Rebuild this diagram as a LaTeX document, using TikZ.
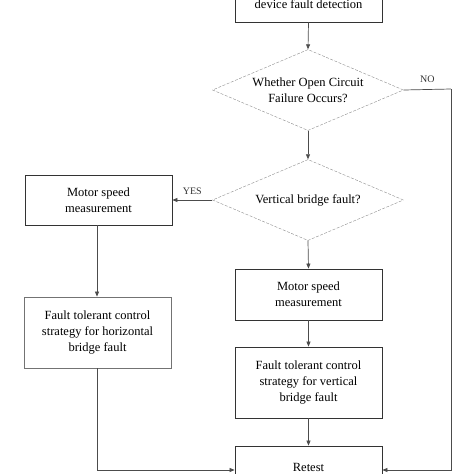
\documentclass[tikz,border=0pt]{standalone}
\usepackage{fontspec}
\setmainfont{Liberation Serif}
\usetikzlibrary{arrows.meta,shapes.geometric}
\begin{document}
\begin{tikzpicture}[x=1pt,y=-1pt,
  box/.style={draw=black!80,line width=0.8pt,rectangle,align=center,font=\fontsize{12.5}{16}\selectfont},
  dia/.style={draw=black!45,dashed,dash pattern=on 3pt off 1.5pt,diamond,aspect=2.36,inner sep=0pt,align=center,font=\fontsize{12.5}{16}\selectfont},
  arr/.style={draw=black!70,line width=0.7pt,-{Triangle[length=5pt,width=4pt]}},
  lin/.style={draw=black!70,line width=0.7pt},
  lab/.style={font=\fontsize{10}{12}\selectfont,text=black!80}]
\clip (0,0) rectangle (474,474);
\useasboundingbox (0,0) rectangle (474,474);
\node[box,minimum width=147pt,minimum height=62pt] (top) at (308.5,-9) {};
\node[font=\fontsize{12.5}{16}\selectfont] at (308.5,4) {device fault detection};
\node[dia,minimum width=191pt,minimum height=81pt] (d1) at (308,90) {Whether Open Circuit\\Failure Occurs?};
\node[dia,minimum width=191pt,minimum height=81pt] (d2) at (308,200) {Vertical bridge fault?};
\node[box,minimum width=147pt,minimum height=50pt] (l1) at (98.5,200) {Motor speed\\measurement};
\node[box,draw=black!55,minimum width=147pt,minimum height=71pt] (l2) at (97.5,332.5) {Fault tolerant control\\strategy for horizontal\\bridge fault};
\node[box,minimum width=147pt,minimum height=51pt] (m1) at (308.5,294.5) {Motor speed\\measurement};
\node[box,minimum width=147pt,minimum height=71pt] (m2) at (308.5,382.5) {Fault tolerant control\\strategy for vertical\\bridge fault};
\node[box,minimum width=147pt,minimum height=60pt] (rt) at (308.5,476) {};
\node[font=\fontsize{12.5}{16}\selectfont] at (308.5,467) {Retest};
\coordinate (nr) at (451,89);
\coordinate (nb) at (451,470);
\coordinate (lb) at (97,470);
\draw[arr] (top.south) -- (d1.north);
\draw[arr] (d1.south) -- (d2.north);
\draw[arr] (d2.west) -- (l1.east) node[lab,midway,above=2pt] {YES};
\draw[arr] (l1.south -| 97,0) -- (l2.north -| 97,0);
\draw[arr] (d2.south) -- (m1.north);
\draw[arr] (m1.south) -- (m2.north);
\draw[arr] (m2.south) -- (rt.north);
\draw[lin] (d1.east) -- (nr) node[lab,pos=0.5,above=3pt] {NO};
\draw[arr] (nr) -- (nb) -- (rt.east |- nb);
\draw[arr] (l2.south -| lb) -- (lb) -- (rt.west |- lb);
\end{tikzpicture}
\end{document}
